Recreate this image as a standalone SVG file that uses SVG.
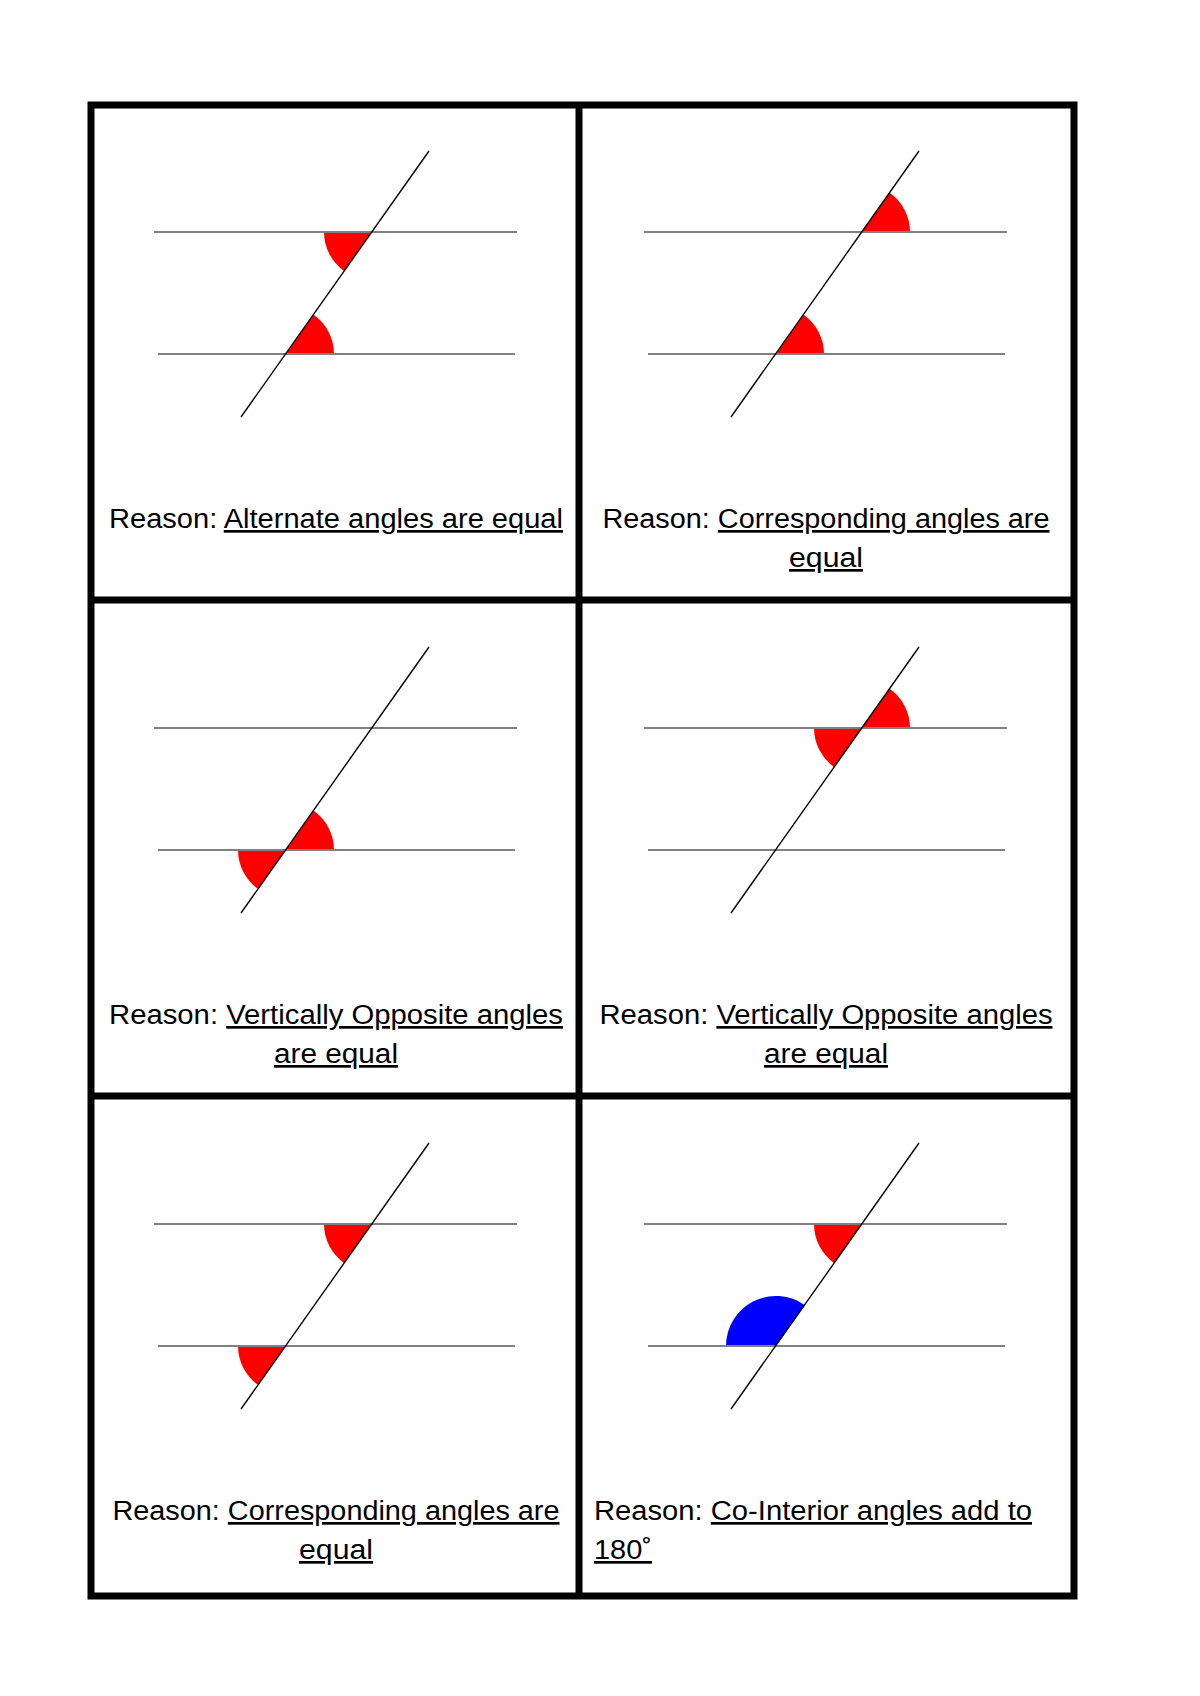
<svg xmlns="http://www.w3.org/2000/svg" width="1200" height="1696" viewBox="0 0 1200 1696">
<style>
.h{stroke:#808080;stroke-width:2}
.t{stroke:#000;stroke-width:1.4}
.r{fill:#ff0000}
.b{fill:#0000ff}
.fr{fill:none;stroke:#000;stroke-width:7}
text{font-family:"Liberation Sans",Arial,sans-serif;font-size:27px;fill:#000}
.u{text-decoration:underline}
</style>
<defs>
<g id="base">
<line class="h" x1="154" y1="232" x2="517" y2="232"/>
<line class="h" x1="158" y1="354" x2="515" y2="354"/>
<line class="t" x1="241" y1="417" x2="429" y2="151"/>
</g>
<path id="Tdl" class="r" d="M372,232 L324,232 A48,48 0 0,0 344.3,271.2 Z"/>
<path id="Tur" class="r" d="M372,232 L420,232 A48,48 0 0,0 399.7,192.8 Z"/>
<path id="Bur" class="r" d="M286,354 L334,354 A48,48 0 0,0 313.7,314.8 Z"/>
<path id="Bdl" class="r" d="M286,354 L238,354 A48,48 0 0,0 258.3,393.2 Z"/>
</defs>
<g id="frame">
<rect class="fr" x="91" y="105" width="983" height="1491"/>
<line class="fr" x1="579" y1="105" x2="579" y2="1596"/>
<line class="fr" x1="91" y1="600" x2="1074" y2="600"/>
<line class="fr" x1="91" y1="1096" x2="1074" y2="1096"/>
</g>
<g id="cell1">
<use href="#Tdl"/><use href="#Bur"/><use href="#base"/>
<text x="336" y="528" text-anchor="middle" textLength="454" lengthAdjust="spacingAndGlyphs">Reason: <tspan class="u">Alternate angles are equal</tspan></text>
</g>
<g id="cell2" transform="translate(490,0)">
<use href="#Tur"/><use href="#Bur"/><use href="#base"/>
<text x="336" y="528" text-anchor="middle" textLength="447" lengthAdjust="spacingAndGlyphs">Reason: <tspan class="u">Corresponding angles are</tspan></text>
<text x="336" y="567" text-anchor="middle" class="u" textLength="74" lengthAdjust="spacingAndGlyphs">equal</text>
</g>
<g id="cell3" transform="translate(0,496)">
<use href="#Bur"/><use href="#Bdl"/><use href="#base"/>
<text x="336" y="528" text-anchor="middle" textLength="454" lengthAdjust="spacingAndGlyphs">Reason: <tspan class="u">Vertically Opposite angles</tspan></text>
<text x="336" y="567" text-anchor="middle" class="u" textLength="124" lengthAdjust="spacingAndGlyphs">are equal</text>
</g>
<g id="cell4" transform="translate(490,496)">
<use href="#Tur"/><use href="#Tdl"/><use href="#base"/>
<text x="336" y="528" text-anchor="middle" textLength="453" lengthAdjust="spacingAndGlyphs">Reason: <tspan class="u">Vertically Opposite angles</tspan></text>
<text x="336" y="567" text-anchor="middle" class="u" textLength="124" lengthAdjust="spacingAndGlyphs">are equal</text>
</g>
<g id="cell5" transform="translate(0,992)">
<use href="#Tdl"/><use href="#Bdl"/><use href="#base"/>
<text x="336" y="528" text-anchor="middle" textLength="447" lengthAdjust="spacingAndGlyphs">Reason: <tspan class="u">Corresponding angles are</tspan></text>
<text x="336" y="567" text-anchor="middle" class="u" textLength="74" lengthAdjust="spacingAndGlyphs">equal</text>
</g>
<g id="cell6" transform="translate(490,992)">
<use href="#Tdl"/>
<path class="b" d="M286,354 L236,354 A50,50 0 0,1 314.9,313.2 Z"/>
<use href="#base"/>
<text x="104" y="528" textLength="438" lengthAdjust="spacingAndGlyphs">Reason: <tspan class="u">Co-Interior angles add to</tspan></text>
<text x="104" y="567" class="u" textLength="58" lengthAdjust="spacingAndGlyphs">180˚</text>
</g>
</svg>
